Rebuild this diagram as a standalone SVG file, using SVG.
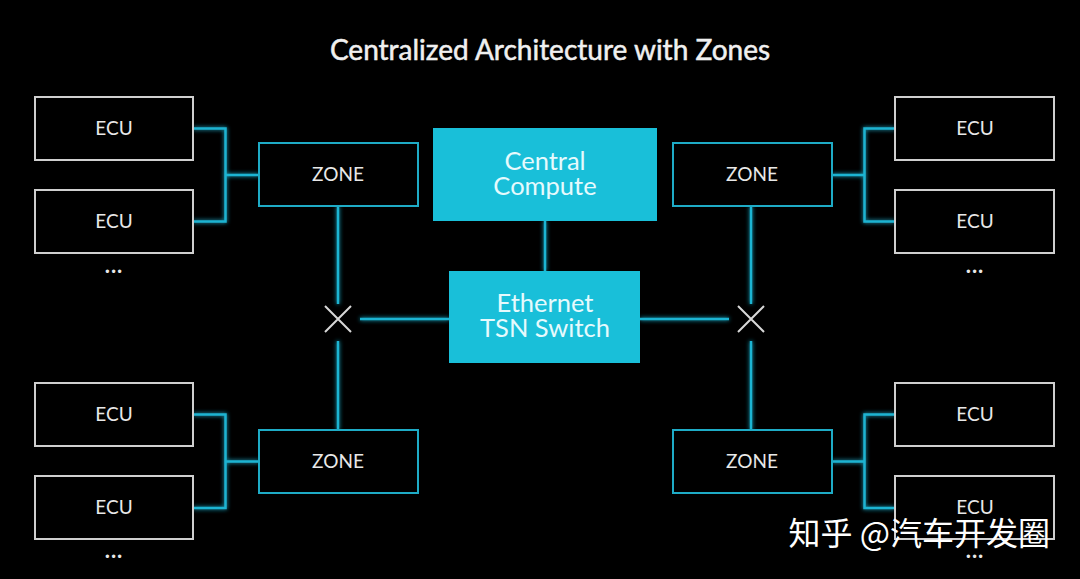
<svg xmlns="http://www.w3.org/2000/svg" width="1080" height="579" viewBox="0 0 1080 579">
<defs>
<filter id="glow" x="-20%" y="-20%" width="140%" height="140%">
<feGaussianBlur stdDeviation="2" result="b"/>
<feMerge><feMergeNode in="b"/><feMergeNode in="SourceGraphic"/></feMerge>
</filter>
</defs>
<style>
.ecu{fill:#000;stroke:#cfcfcf;stroke-width:2}
.zone{fill:#000;stroke:#1eabc6;stroke-width:2}
.core{fill:#19bfd9}
.lbl{font-family:Lato,"Liberation Sans",sans-serif;fill:#e8e8e8;font-size:19px;text-anchor:middle}
.clbl{font-family:Lato,"Liberation Sans",sans-serif;fill:#e6fafd;font-size:25.5px;text-anchor:middle}
.dots{font-family:Lato,"Liberation Sans",sans-serif;fill:#e8e8e8;font-size:22px;font-weight:bold;text-anchor:middle;letter-spacing:1px}
.wire{fill:none;stroke:#1eb4d2;stroke-width:2.5}
.xm{stroke:#d8d8d8;stroke-width:2}
</style>
<rect width="1080" height="579" fill="#000"/>
<text x="550" y="60" font-family="Lato,'Liberation Sans',sans-serif" font-size="28" fill="#f0f0f0" stroke="#f0f0f0" stroke-width="0.5" text-anchor="middle">Centralized Architecture with Zones</text>

<g id="connectors" class="wire" filter="url(#glow)">
<path d="M193 128.5H225.5V221.5H193M225.5 175H259"/>
<path d="M193 414.5H225.5V508H193M225.5 461.5H259"/>
<path d="M895 128.5H864.5V221.5H895M864.5 175H832"/>
<path d="M895 414.5H864.5V508H895M864.5 461.5H832"/>
<path d="M338 206V304M338 341V430"/>
<path d="M751 206V304M751 341V430"/>
<path d="M360 319H449M640 319H729"/>
<path d="M545 221V271"/>
</g>

<g id="x-left"><path class="xm" d="M325 306L351 332M351 306L325 332"/></g>
<g id="x-right"><path class="xm" d="M738 306L764 332M764 306L738 332"/></g>

<g id="ecu-l1"><rect class="ecu" x="35" y="97" width="158" height="63"/><text class="lbl" x="114" y="135">ECU</text></g>
<g id="ecu-l2"><rect class="ecu" x="35" y="190" width="158" height="63"/><text class="lbl" x="114" y="228">ECU</text></g>
<text class="dots" x="114" y="273">...</text>
<g id="ecu-l3"><rect class="ecu" x="35" y="383" width="158" height="63"/><text class="lbl" x="114" y="421">ECU</text></g>
<g id="ecu-l4"><rect class="ecu" x="35" y="476" width="158" height="63"/><text class="lbl" x="114" y="514">ECU</text></g>
<text class="dots" x="114" y="558">...</text>

<g id="ecu-r1"><rect class="ecu" x="895" y="97" width="159" height="63"/><text class="lbl" x="975" y="135">ECU</text></g>
<g id="ecu-r2"><rect class="ecu" x="895" y="190" width="159" height="63"/><text class="lbl" x="975" y="228">ECU</text></g>
<text class="dots" x="975" y="273">...</text>
<g id="ecu-r3"><rect class="ecu" x="895" y="383" width="159" height="63"/><text class="lbl" x="975" y="421">ECU</text></g>
<g id="ecu-r4"><rect class="ecu" x="895" y="476" width="159" height="63"/><text class="lbl" x="975" y="514">ECU</text></g>
<text class="dots" x="975" y="558">...</text>

<g id="zone-tl"><rect class="zone" x="259" y="143" width="159" height="63"/><text class="lbl" x="338" y="181">ZONE</text></g>
<g id="zone-bl"><rect class="zone" x="259" y="430" width="159" height="63"/><text class="lbl" x="338" y="468">ZONE</text></g>
<g id="zone-tr"><rect class="zone" x="673" y="143" width="159" height="63"/><text class="lbl" x="752" y="181">ZONE</text></g>
<g id="zone-br"><rect class="zone" x="673" y="430" width="159" height="63"/><text class="lbl" x="752" y="468">ZONE</text></g>

<g id="central-compute"><rect class="core" x="433" y="128" width="224" height="93"/><text class="clbl" x="545" y="170">Central</text><text class="clbl" x="545" y="195">Compute</text></g>
<g id="tsn-switch"><rect class="core" x="449" y="271" width="191" height="92"/><text class="clbl" x="545" y="312">Ethernet</text><text class="clbl" x="545" y="337">TSN Switch</text></g>

<text x="1050" y="545" font-family="'Noto Sans CJK SC',sans-serif" font-size="32" fill="#ffffff" text-anchor="end">知乎 @汽车开发圈</text>
</svg>
